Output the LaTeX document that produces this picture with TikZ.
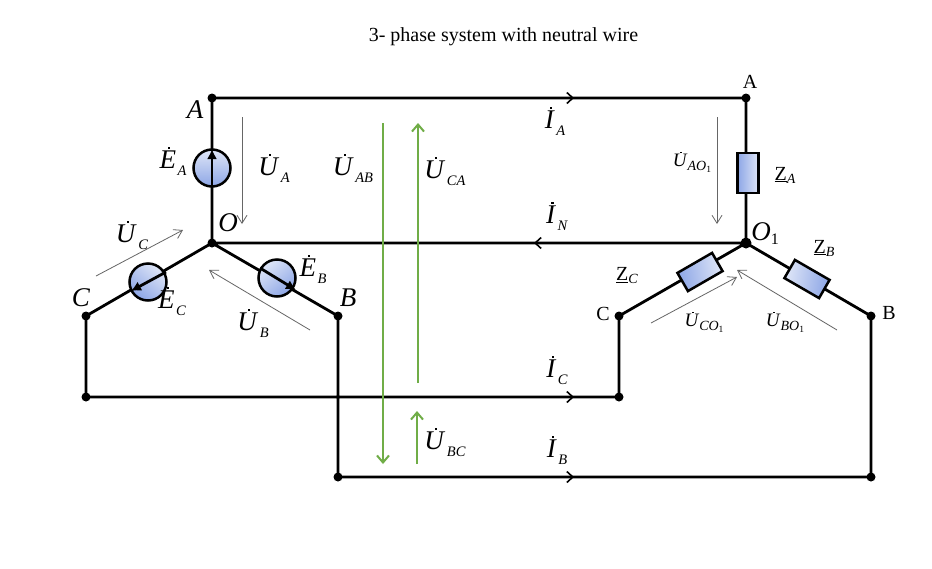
\documentclass[tikz,border=0pt]{standalone}
\usepackage{fontspec}
\setmainfont{Liberation Serif}
\usetikzlibrary{arrows.meta}
\definecolor{grn}{HTML}{70AD47}
\definecolor{gry}{HTML}{666666}
\definecolor{lt}{HTML}{DFE6F7}
\definecolor{dk}{HTML}{8DA6E6}
\newsavebox{\dotbox}
\newcommand{\dotted}[1]{\sbox{\dotbox}{\textit{#1}}\rlap{\hbox to \wd\dotbox{\hss\hspace{0.1em}\rule[0.72em]{0.085em}{0.085em}\hss}}\usebox{\dotbox}}
\newcommand{\bigsub}[2]{{\fontsize{27}{27}\selectfont\dotted{#1}}\hspace{1.5pt}\raisebox{-7pt}{\fontsize{14.5}{14.5}\selectfont\textit{#2}}}
\newcommand{\smallsub}[2]{{\fontsize{19}{19}\selectfont\dotted{#1}}\raisebox{-3.5pt}{\fontsize{14}{14}\selectfont\textit{#2}\fontsize{9.5}{9.5}\selectfont\raisebox{-2pt}{1}}}
\newcommand{\zsub}[2]{{\fontsize{20}{20}\selectfont\underline{#1}}\raisebox{-3pt}{\fontsize{14}{14}\selectfont\textit{#2}}}
\tikzset{
  x=1pt,y=-1pt,
  dotn/.style={circle,fill=black,inner sep=0pt,minimum size=#1},
  dotn/.default=9pt,
  wire/.style={draw=black,line width=2.8pt},
  src/.style={circle,draw=black,line width=2.5pt,minimum size=37pt,inner sep=0pt,top color=lt,bottom color=dk,shading angle=#1},
  src/.default=0,
  imp/.style 2 args={rectangle,draw=black,line width=2.5pt,inner sep=0pt,minimum width=40pt,minimum height=21pt,top color=lt,bottom color=dk,rotate=#1,shading angle=#2},
  emf/.style={black,line width=2.8pt,-{Latex[length=10pt,width=10pt]}},
  flow/.style={black,line width=2.9pt,-{Straight Barb[length=6pt,width=11pt,line width=1.6pt]}},
  thin arrow/.style={gry,line width=0.8pt,-{Straight Barb[length=8pt,width=10pt,line width=0.8pt]}},
  line volt/.style={grn,line width=2pt},
  line head/.style={line volt,-{Straight Barb[length=7pt,width=12pt,line width=2pt]}},
  lab/.style={inner sep=0pt,anchor=center},
  letter/.style={inner sep=0pt,font=\fontsize{27}{27}\selectfont\itshape},
  upr/.style={inner sep=0pt,font=\fontsize{20}{20}\selectfont}
}
\begin{document}
\begin{tikzpicture}
\useasboundingbox (0,0) rectangle (932,568);
\fill[white] (0,0) rectangle (932,568);
% junctions
\node[dotn] (A) at (212,98) {};
\node[dotn] (O) at (212,243) {};
\node[dotn] (B) at (338,316) {};
\node[dotn] (C) at (86,316) {};
\node[dotn] (CB) at (86,397) {};
\node[dotn] (BB) at (338,477) {};
\node[dotn] (A1) at (746,98) {};
\node[dotn=11pt] (O1) at (746,243) {};
\node[dotn] (C1) at (619,316) {};
\node[dotn] (B1) at (871,316) {};
\node[dotn] (C1B) at (619,397) {};
\node[dotn] (B1B) at (871,477) {};
% wires
\draw[wire] (A.center) -- (O.center) -- (B.center) -- (BB.center) -- (B1B.center) -- (B1.center) -- (O1.center) -- (C1.center) -- (C1B.center) -- (CB.center) -- (C.center) -- (O.center) -- (O1.center) -- (A1.center) -- (A.center);
% green voltages
\coordinate (abs) at (383,123); \coordinate (abe) at (383,464);
\coordinate (cas) at (418,383); \coordinate (cae) at (418,123);
\coordinate (bcs) at (417,464); \coordinate (bce) at (417,411);
\draw[line head] (abs) -- (abe);
\draw[line head] (cas) -- (cae);
\draw[line head] (bcs) -- (bce);
% sources
\node[src=0] (EA) at (212,168) {};
\node[src=40] (EB) at (277,278) {};
\node[src=-40] (EC) at (148,282) {};
\coordinate (ta) at (212,149);
\coordinate (tb) at (296,290);
\coordinate (tc) at (131,291);
\draw[emf] (212,190) -- (ta);
\draw[emf] (260,268) -- (tb);
\draw[emf] (166,272) -- (tc);
% impedances
\node[imp={90}{-90}] (ZA) at (748,173) {};
\node[imp={-30}{80}] (ZB) at (807,279) {};
\node[imp={30}{-80}] (ZC) at (700,272) {};
% current arrows
\coordinate (ia1) at (535,98); \coordinate (ia2) at (574,98);
\coordinate (in1) at (560,243); \coordinate (in2) at (534,243);
\coordinate (ic1) at (535,397); \coordinate (ic2) at (574,397);
\coordinate (ib1) at (535,477); \coordinate (ib2) at (574,477);
\draw[flow] (ia1) -- (ia2);
\draw[flow] (in1) -- (in2);
\draw[flow] (ic1) -- (ic2);
\draw[flow] (ib1) -- (ib2);
% thin arrows
\coordinate (ua1) at (242,117); \coordinate (ua2) at (242,224);
\coordinate (ub1) at (310,330); \coordinate (ub2) at (209,270);
\coordinate (uc1) at (96,276); \coordinate (uc2) at (183,230);
\coordinate (uao1) at (717,117); \coordinate (uao2) at (717,224);
\coordinate (uco1) at (651,323); \coordinate (uco2) at (737,277);
\coordinate (ubo1) at (837,330); \coordinate (ubo2) at (737,270);
\draw[thin arrow] (ua1) -- (ua2);
\draw[thin arrow] (ub1) -- (ub2);
\draw[thin arrow] (uc1) -- (uc2);
\draw[thin arrow] (uao1) -- (uao2);
\draw[thin arrow] (uco1) -- (uco2);
\draw[thin arrow] (ubo1) -- (ubo2);
% labels
\node[inner sep=0pt,font=\fontsize{20}{20}\selectfont] (title) at (503.5,37) {3- phase system with neutral wire};
\node[letter] (lA) at (195,110) {A};
\node[letter] (lO) at (228,223) {O};
\node[letter] (lB) at (348,298) {B};
\node[letter] (lC) at (81,298) {C};
\node[upr] (lA1) at (750,82) {A};
\node[upr] (lC1) at (603,314) {C};
\node[upr] (lB1) at (889,313) {B};
\node[inner sep=0pt] (lO1) at (765,234) {{\fontsize{27}{27}\selectfont\textit{O}}\raisebox{-4pt}{\fontsize{16}{16}\selectfont 1}};
\node[lab] (lEA) at (173,161) {\bigsub{E}{A}};
\node[lab] (lEB) at (313,269) {\bigsub{E}{B}};
\node[lab] (lEC) at (172,301) {\bigsub{E}{C}};
\node[lab] (lUA) at (274,168) {\bigsub{U}{A}};
\node[lab] (lUB) at (253,323) {\bigsub{U}{B}};
\node[lab] (lUC) at (132,235) {\bigsub{U}{C}};
\node[lab] (lUAB) at (353,168) {\bigsub{U}{AB}};
\node[lab] (lUCA) at (445,171) {\bigsub{U}{CA}};
\node[lab] (lUBC) at (445,442) {\bigsub{U}{BC}};
\node[lab] (lIA) at (555,121) {\bigsub{I}{A}};
\node[lab] (lIN) at (557,216) {\bigsub{I}{N}};
\node[lab] (lIC) at (557,370) {\bigsub{I}{C}};
\node[lab] (lIB) at (557,450) {\bigsub{I}{B}};
\node[lab] (lUAO) at (692,162) {\smallsub{U}{AO}};
\node[lab] (lUCO) at (704,322) {\smallsub{U}{CO}};
\node[lab] (lUBO) at (785,322) {\smallsub{U}{BO}};
\node[lab] (lZA) at (785,175) {\zsub{Z}{A}};
\node[lab] (lZB) at (824,248) {\zsub{Z}{B}};
\node[lab] (lZC) at (627,276) {\zsub{Z}{C}};
\end{tikzpicture}
\end{document}
